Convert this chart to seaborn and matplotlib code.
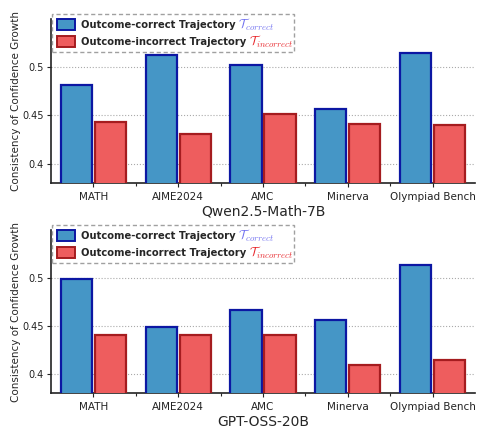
import numpy as np
import pandas as pd
import matplotlib
matplotlib.use("Agg")
import matplotlib.pyplot as plt
import seaborn as sns

# benchmarks and values
benchmarks = ["MATH", "AIME2024", "AMC", "Minerva", "Olympiad Bench"]
qwen_correct = [0.482, 0.513, 0.502, 0.457, 0.515]
qwen_incorrect = [0.443, 0.431, 0.451, 0.441, 0.440]
gpt_correct = [0.499, 0.449, 0.467, 0.456, 0.514]
gpt_incorrect = [0.440, 0.440, 0.440, 0.409, 0.414]
model_names = ["Qwen2.5-Math-7B", "GPT-OSS-20B"]
ytick_vals = [0.4, 0.45, 0.5]
ytick_labels = ["0.4", "0.45", "0.5"]

groups = ["correct", "incorrect"]
fills = {"correct": "#4596c6", "incorrect": "#ee5d5e"}
edges = {"correct": "#0c17a3", "incorrect": "#a51c1f"}
legend_labels = ["Outcome-correct Trajectory", "Outcome-incorrect Trajectory"]
math_labels = [r"$\mathcal{T}_{correct}$", r"$\mathcal{T}_{incorrect}$"]
math_colors = ["#7070f0", "#e8262b"]

sns.set_style("white")
plt.rcParams["font.family"] = ["DejaVu Sans"]
plt.rcParams["mathtext.fontset"] = "cm"

fig = plt.figure(figsize=(4.99, 4.4), dpi=100)
ax_top = fig.add_axes([0.102, 0.584, 0.850, 0.373])
ax_bot = fig.add_axes([0.102, 0.107, 0.850, 0.370])

legends = []
for ax, name, corr, inc in [(ax_top, model_names[0], qwen_correct, qwen_incorrect),
                            (ax_bot, model_names[1], gpt_correct, gpt_incorrect)]:
    df = pd.DataFrame({
        "Benchmark": benchmarks * 2,
        "Value": corr + inc,
        "Type": ["correct"] * len(benchmarks) + ["incorrect"] * len(benchmarks),
    })
    sns.barplot(data=df, x="Benchmark", y="Value", hue="Type", hue_order=groups,
                palette=fills, saturation=1, gap=0.08, ax=ax, zorder=3, legend=False)
    for cont, g in zip(ax.containers, groups):
        for p in cont:
            p.set_edgecolor(edges[g])
            p.set_linewidth(1.6)

    ax.set_ylim(0.38, 0.55)
    ax.set_xlim(-0.5, 4.5)
    ax.set_yticks(ytick_vals)
    ax.set_yticklabels(ytick_labels)
    ax.set_xticks(np.arange(len(benchmarks) - 1) + 0.5, minor=True)
    ax.tick_params(axis="both", which="major", labelsize=7.5, length=3, width=0.8,
                   direction="out", left=True, bottom=True, colors="#222222")
    ax.tick_params(axis="y", labelsize=7, pad=2)
    ax.tick_params(axis="x", which="minor", length=2, width=0.8, bottom=True)
    ax.grid(axis="y", linestyle=":", color="#aaaaaa", linewidth=0.8, zorder=0)
    ax.set_axisbelow(True)
    sns.despine(ax=ax)
    for s in ["left", "bottom"]:
        ax.spines[s].set_color("#222222")
        ax.spines[s].set_linewidth(1.2)
    ax.set_xlabel(name, fontsize=10, labelpad=2)
    ax.set_ylabel("Consistency of Confidence Growth", fontsize=7.5, labelpad=1)

    handles = [plt.Rectangle((0, 0), 1, 1, facecolor=fills[g], edgecolor=edges[g], linewidth=1.4)
               for g in groups]
    leg = ax.legend(handles, legend_labels, loc="lower left", mode="expand",
                    bbox_to_anchor=(0.003, 0.80, 0.57, 0.23), frameon=True,
                    prop={"weight": "bold", "size": 7.2}, handlelength=1.8, handleheight=1.4,
                    borderpad=0.45, labelspacing=0.55, handletextpad=0.6, fancybox=False,
                    borderaxespad=0)
    leg.get_frame().set_linestyle((0, (3, 2)))
    leg.get_frame().set_edgecolor("#888888")
    leg.get_frame().set_linewidth(1.0)
    legends.append(leg)

fig.canvas.draw()
renderer = fig.canvas.get_renderer()
for leg in legends:
    for txt, mlab, mcol in zip(leg.get_texts(), math_labels, math_colors):
        bb = txt.get_window_extent(renderer)
        x = bb.x1 + 3
        y = (bb.y0 + bb.y1) / 2
        fx, fy = fig.transFigure.inverted().transform((x, y))
        fig.text(fx, fy, mlab, color=mcol, fontsize=9, va="center", ha="left")

fig.savefig("out.png", dpi=100)
